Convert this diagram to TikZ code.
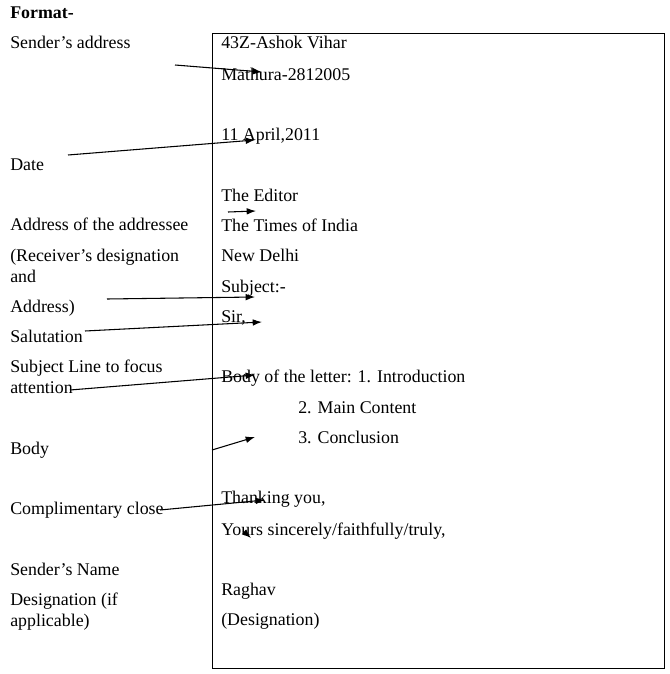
\documentclass[tikz,border=0pt]{standalone}
\usepackage{fontspec}
\setmainfont{Liberation Serif}
\usetikzlibrary{arrows.meta}
\begin{document}
\begin{tikzpicture}[x=0.75pt,y=-0.75pt]
  \tikzset{lab/.style = {anchor=base west,inner sep=0pt,font=\fontsize{13.4}{15}\selectfont}}
  \tikzset{edge/.style = {-{Latex[length=7pt,width=5pt]},line width=0.8pt}}
  \useasboundingbox (0,0) rectangle (670,674);
  \draw[line width=0.6pt] (212,33) rectangle (664,668);
  % left column
  \node[lab,font=\fontsize{13.4}{15}\selectfont\bfseries] (fmt) at (10,19) {Format-};
  \foreach \n/\y/\t in {sa/49/Sender’s address, dt/170/Date, aa/230/Address of the addressee,
      rd/261/(Receiver’s designation, an/282/and, ad/312/Address), sl/342/Salutation,
      sj/372/Subject Line to focus, at/393/attention, bd/454/Body, cc/514/Complimentary close,
      sn/575/Sender’s Name, dg/605/Designation (if, ap/626/applicable)}
    \node[lab] (\n) at (10,\y) {\t};
  % right column
  \foreach \n/\y/\t in {r1/49/43Z-Ashok Vihar, r2/80/Mathura-2812005, r3/140/{11 April,2011},
      r4/201/The Editor, r5/231/The Times of India, r6/261/New Delhi, r7/292/Subject:-,
      r8/322/{Sir,}, r9/382/Body of the letter: 1. Introduction, r12/503/{Thanking you,},
      r13/535/{Yours sincerely/faithfully/truly,}, r14/595/Raghav, r15/625/(Designation)}
    \node[lab] (\n) at (221,\y) {\t};
  \node[lab] (r10) at (298,413) {2. Main Content};
  \node[lab] (r11) at (298,443) {3. Conclusion};
  % arrows
  \foreach \a/\b/\c/\d in {175/65/262/72, 68/155/255/140, 228/212/256/211, 107/299/255/297,
      85/331/262/322, 70/390/255/375, 212/450/255/437, 160/510/265/500, 243/531/251/538}
    \draw[edge] (\a,\b) -- (\c,\d);
\end{tikzpicture}
\end{document}
